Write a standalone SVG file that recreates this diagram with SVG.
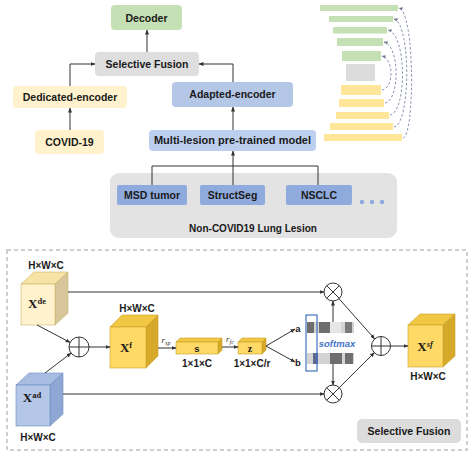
<svg xmlns="http://www.w3.org/2000/svg" width="474" height="457" viewBox="0 0 474 457">
<style>
text{font-family:"Liberation Sans",Arial,sans-serif;font-weight:bold;fill:#1a1a1a}
.lbl{font-size:10.5px;text-anchor:middle}
.dim{font-size:10px;text-anchor:middle}
.math{font-family:"Liberation Serif","Times New Roman",serif;font-weight:bold;font-size:13px;text-anchor:middle}
.sub{font-family:"Liberation Serif","Times New Roman",serif;font-style:italic;font-weight:normal;font-size:9px;fill:#333}
.ln{stroke:#333;stroke-width:1;fill:none}
.arr{stroke:#333;stroke-width:1;fill:none;marker-end:url(#ah)}
.dash{stroke:#7a86a0;stroke-width:0.9;fill:none;stroke-dasharray:2.5,2;marker-end:url(#dh)}
.op{fill:#fff;stroke:#333;stroke-width:1}
</style>
<defs>
<marker id="ah" viewBox="0 0 10 10" refX="9" refY="5" markerWidth="5" markerHeight="5" orient="auto" markerUnits="userSpaceOnUse"><path d="M0,1 L10,5 L0,9 z" fill="#333"/></marker>
<marker id="dh" viewBox="0 0 10 10" refX="9" refY="5" markerWidth="4" markerHeight="4" orient="auto" markerUnits="userSpaceOnUse"><path d="M0,1 L10,5 L0,9 z" fill="#6a7690"/></marker>
</defs>

<!-- top flow -->
<g id="decoder"><rect x="111" y="5" width="71" height="25" rx="4" fill="#c5e0b4"/><text class="lbl" x="146.5" y="21.5">Decoder</text></g>
<g id="selective-fusion-top"><rect x="95" y="52" width="104" height="24" rx="4" fill="#dedede"/><text class="lbl" x="147" y="67.8">Selective Fusion</text></g>
<g id="dedicated-encoder"><rect x="13" y="86" width="114" height="22" rx="4" fill="#fff2cc"/><text class="lbl" x="70" y="100.8">Dedicated-encoder</text></g>
<g id="covid19"><rect x="35" y="130" width="69" height="24" rx="4" fill="#fff2cc"/><text class="lbl" x="69.5" y="145.8">COVID-19</text></g>
<g id="adapted-encoder"><rect x="172" y="82" width="121" height="25" rx="4" fill="#b4c7e7"/><text class="lbl" x="232.5" y="98.2">Adapted-encoder</text></g>
<g id="multi-lesion"><rect x="149" y="130" width="167" height="21" rx="4" fill="#bccfee"/><text class="lbl" x="232.5" y="144.3" style="font-size:11px">Multi-lesion pre-trained model</text></g>
<g id="non-covid"><rect x="110" y="173" width="287" height="65" rx="9" fill="#e3e3e3"/><text class="lbl" x="253" y="231.5" style="font-size:10px">Non-COVID19 Lung Lesion</text>
<circle cx="362" cy="202" r="2.2" fill="#8faadc"/><circle cx="372" cy="202" r="2.2" fill="#8faadc"/><circle cx="382" cy="202" r="2.2" fill="#8faadc"/></g>
<g id="msd"><rect x="117" y="185" width="70" height="20" rx="2" fill="#8faadc"/><text class="lbl" x="152" y="198.8">MSD tumor</text></g>
<g id="structseg"><rect x="200" y="185" width="65" height="20" rx="2" fill="#8faadc"/><text class="lbl" x="232.5" y="198.8">StructSeg</text></g>
<g id="nsclc"><rect x="286" y="185" width="66" height="20" rx="2" fill="#8faadc"/><text class="lbl" x="319" y="198.8">NSCLC</text></g>

<g id="top-connectors">
<path class="arr" d="M147,52 V30"/>
<path class="arr" d="M70,86 V64 H95"/>
<path class="arr" d="M233,82 V64 H199"/>
<path class="arr" d="M70,130 V108"/>
<path class="arr" d="M233,130 V107"/>
<path class="ln" d="M152,185 V166 H318 V185 M233,185 V166"/>
<path class="arr" d="M233,166 V151"/>
</g>

<!-- U-net bars -->
<g id="unet">
<rect x="320" y="5" width="78" height="6" fill="#c5e0b4"/>
<rect x="329" y="16" width="64" height="6" fill="#c5e0b4"/>
<rect x="333" y="27" width="54" height="6.5" fill="#c5e0b4"/>
<rect x="337" y="38" width="46" height="8" fill="#c5e0b4"/>
<rect x="342" y="51" width="39" height="10" fill="#c5e0b4"/>
<rect x="346" y="64" width="29" height="17" fill="#dcdcdc"/>
<rect x="341" y="85" width="40" height="10" fill="#ffe699"/>
<rect x="339" y="99" width="45" height="8" fill="#ffe699"/>
<rect x="336" y="112" width="53" height="7" fill="#ffe699"/>
<rect x="330" y="123" width="63" height="7" fill="#ffe699"/>
<rect x="324" y="134" width="78" height="7" fill="#ffe699"/>
<path class="dash" d="M382,90 C394,88 394,59 382,56"/>
<path class="dash" d="M385,103 C400,100 400,46 384,42"/>
<path class="dash" d="M390,115 C407,112 407,34 388,30"/>
<path class="dash" d="M394,127 C411,124 411,23 394,19"/>
<path class="dash" d="M403,138 C415,135 415,12 399,8"/>
</g>

<!-- bottom panel -->
<rect x="7" y="250" width="460" height="200" fill="none" stroke="#c0c0c0" stroke-width="1.5" stroke-dasharray="4,3"/>

<g id="xde">
<text class="dim" x="46" y="268.5">H×W×C</text>
<polygon points="21,284 34,272 68,272 55,284" fill="#f6e3a6" stroke="#c9b36b" stroke-width="0.6"/>
<polygon points="55,284 68,272 68,313 55,325" fill="#d8c69a" stroke="#c9b36b" stroke-width="0.6"/>
<rect x="21" y="284" width="34" height="41" fill="#fff2cc" stroke="#c9b36b" stroke-width="0.6"/>
<text class="math" x="37" y="308">X<tspan font-size="8.5" dy="-4.5">de</tspan></text>
</g>

<g id="xad">
<polygon points="16,385 29,373 63,373 50,385" fill="#a9bde3" stroke="#6c8ebf" stroke-width="0.6"/>
<polygon points="50,385 63,373 63,414 50,426" fill="#8fa7d4" stroke="#6c8ebf" stroke-width="0.6"/>
<rect x="16" y="385" width="34" height="41" fill="#b4c7e7" stroke="#6c8ebf" stroke-width="0.6"/>
<text class="math" x="32" y="402">X<tspan font-size="8.5" dy="-4.5">ad</tspan></text>
<text class="dim" x="38" y="441">H×W×C</text>
</g>

<g id="oplus1"><circle class="op" cx="79" cy="347" r="10"/><path class="ln" d="M69,347 H89 M79,337 V357"/></g>

<g id="xf">
<text class="dim" x="137" y="312">H×W×C</text>
<polygon points="110,327 122,315 158,315 146,327" fill="#f2c744" stroke="#c9a227" stroke-width="0.6"/>
<polygon points="146,327 158,315 158,356 146,368" fill="#d6a92b" stroke="#c9a227" stroke-width="0.6"/>
<rect x="110" y="327" width="36" height="41" fill="#ffd966" stroke="#c9a227" stroke-width="0.6"/>
<text class="math" x="126" y="352">X<tspan font-size="8.5" dy="-4.5">f</tspan></text>
</g>

<g id="s">
<polygon points="176,342 180,338 222,338 218,342" fill="#f2c744" stroke="#c9a227" stroke-width="0.6"/>
<polygon points="218,342 222,338 222,350 218,354" fill="#d6a92b" stroke="#c9a227" stroke-width="0.6"/>
<rect x="176" y="342" width="42" height="12" fill="#ffd966" stroke="#c9a227" stroke-width="0.6"/>
<text class="lbl" x="197" y="352" style="font-size:9.5px">s</text>
<text class="dim" x="197" y="367">1×1×C</text>
</g>

<g id="z">
<polygon points="238,342 242,338 266,338 262,342" fill="#f2c744" stroke="#c9a227" stroke-width="0.6"/>
<polygon points="262,342 266,338 266,350 262,354" fill="#d6a92b" stroke="#c9a227" stroke-width="0.6"/>
<rect x="238" y="342" width="24" height="12" fill="#ffd966" stroke="#c9a227" stroke-width="0.6"/>
<text class="math" x="250" y="352" style="font-size:10px">z</text>
<text class="dim" x="252" y="367">1×1×C/r</text>
</g>

<g id="softmax">
<rect x="307" y="322" width="47" height="11" fill="#d3d3d3"/>
<rect x="307" y="322" width="7" height="11" fill="#6e6e6e"/>
<rect x="319" y="322" width="11" height="11" fill="#6e6e6e"/>
<rect x="330" y="322" width="11" height="11" fill="#e6e6e6"/>
<rect x="345" y="322" width="7" height="11" fill="#7a7a7a"/>
<rect x="307" y="353" width="47" height="11" fill="#d3d3d3"/>
<rect x="313" y="353" width="5" height="11" fill="#5d6a8f"/>
<rect x="330" y="353" width="12" height="11" fill="#6e6e6e"/>
<rect x="345" y="353" width="8" height="11" fill="#707070"/>
<rect x="306" y="315" width="11" height="56" fill="none" stroke="#4472c4" stroke-width="1.2"/>
<text x="337" y="346.5" style="font-size:9.5px;font-style:italic;fill:#4472c4;text-anchor:middle">softmax</text>
<text x="298" y="331.5" style="font-size:9.5px;text-anchor:middle">a</text>
<text x="298" y="365.5" style="font-size:9.5px;text-anchor:middle">b</text>
</g>

<g id="otimes1"><circle class="op" cx="333" cy="292" r="9"/><path class="ln" d="M326.6,285.6 L339.4,298.4 M339.4,285.6 L326.6,298.4"/></g>
<g id="otimes2"><circle class="op" cx="333" cy="394" r="9"/><path class="ln" d="M326.6,387.6 L339.4,400.4 M339.4,387.6 L326.6,400.4"/></g>
<g id="oplus2"><circle class="op" cx="381" cy="346" r="9.5"/><path class="ln" d="M371.5,346 H390.5 M381,336.5 V355.5"/></g>

<g id="xsf">
<polygon points="408,325 420,314 455,314 443,325" fill="#f2c744" stroke="#c9a227" stroke-width="0.6"/>
<polygon points="443,325 455,314 455,356 443,367" fill="#d6a92b" stroke="#c9a227" stroke-width="0.6"/>
<rect x="408" y="325" width="35" height="42" fill="#ffd966" stroke="#c9a227" stroke-width="0.6"/>
<text class="math" x="425" y="351">X<tspan font-size="8.5" dy="-4.5" font-style="italic">sf</tspan></text>
<text class="dim" x="428" y="380">H×W×C</text>
</g>

<g id="sf-label"><rect x="357" y="419" width="104" height="24" rx="5" fill="#dcdcdc"/><text class="lbl" x="409" y="435">Selective Fusion</text></g>

<g id="bottom-connectors">
<path class="arr" d="M68,292 H324"/>
<path class="arr" d="M63,394 H324"/>
<path class="arr" d="M37,325 L70.1,342.4"/>
<path class="arr" d="M45,373 L71.1,353.1"/>
<path class="arr" d="M89,347 H110"/>
<path class="arr" d="M158,348 H176"/>
<path class="arr" d="M222,347 H238"/>
<path class="arr" d="M266,346 L295,329"/>
<path class="arr" d="M266,346 L295,362"/>
<path class="arr" d="M333,322 V301"/>
<path class="arr" d="M333,364 V385"/>
<path class="arr" d="M339,298.7 L374.7,338.9"/>
<path class="arr" d="M339.4,387.6 L374.3,352.7"/>
<path class="arr" d="M390.5,346 H408"/>
<text class="sub" x="166" y="343" text-anchor="middle">r<tspan font-size="6" dy="1.5">sp</tspan></text>
<text class="sub" x="230" y="342" text-anchor="middle">r<tspan font-size="6" dy="1.5">fc</tspan></text>
</g>
</svg>
